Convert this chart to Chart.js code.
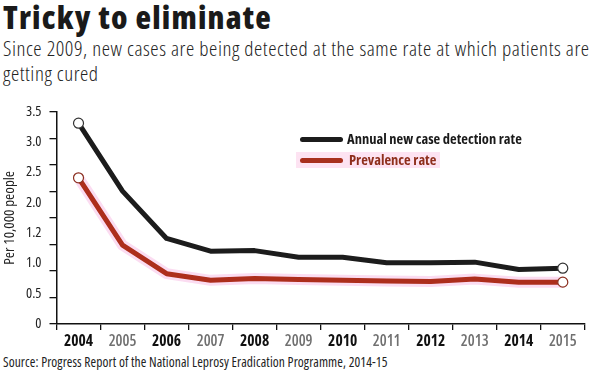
<!DOCTYPE html>
<html>
<head>
<meta charset="utf-8">
<script src="https://cdn.jsdelivr.net/npm/chart.js@4.4.0/dist/chart.umd.min.js"></script>
<style>
  body { margin: 0; background: #fff; width: 591px; height: 378px; overflow: hidden; position: relative;
         font-family: "Open Sans", sans-serif; font-stretch: 75%; color: #1a1a1a; }
  #title { position: absolute; left: 3px; top: -5px; font-size: 32px; font-weight: 800; letter-spacing: 1.2px; white-space: nowrap; }
  #sub { position: absolute; left: 3px; top: 36px; font-size: 21px; font-weight: 300; letter-spacing: 0.55px; line-height: 25px; white-space: nowrap; color: #222; }
  #box { position: absolute; left: 0; top: 95px; }
  #source { position: absolute; left: 3px; top: 353px; font-size: 13.5px; letter-spacing: 0.1px; white-space: nowrap; color: #222; }
  .row { position: absolute; height: 16px; line-height: 16px; font-size: 14.5px; font-weight: bold; white-space: nowrap; }
  .sw { position: absolute; left: 4px; top: 6px; width: 43px; height: 5px; border-radius: 3px; }
</style>
</head>
<body>
<div id="title">Tricky to eliminate</div>
<div id="sub">Since 2009, new cases are being detected at the same rate at which patients are<br>getting cured</div>
<div id="box"><canvas id="graph" width="591" height="258"></canvas></div>
<div class="row" style="left:296px; top:131px;"><span class="sw" style="background:#1c1c1c"></span><span style="margin-left:51px">Annual new case detection rate</span></div>
<div class="row" style="left:296px; top:152px; background:#fde3f2; padding-right:4px;"><span class="sw" style="background:#a8301d"></span><span style="margin-left:53px; color:#8e2f1c">Prevalence rate</span></div>
<div id="source">Source: Progress Report of the National Leprosy Eradication Programme, 2014-15</div>

<script>
const years = ["2004", "2005", "2006", "2007", "2008", "2009", "2010", "2011", "2012", "2013", "2014", "2015"];
const detectionRate = [3.31, 2.19, 1.41, 1.20, 1.21, 1.10, 1.10, 1.01, 1.01, 1.02, 0.90, 0.92];
const prevalenceRate = [2.41, 1.30, 0.83, 0.72, 0.75, 0.735, 0.72, 0.71, 0.70, 0.74, 0.69, 0.69];
const yTickLabels = ["0", "0.5", "1.0", "1.2", "2.0", "2.5", "3.0", "3.5"];

const fontFamily = '"Open Sans", sans-serif';
const ends = (c) => (c.dataIndex === 0 || c.dataIndex === years.length - 1) ? 5 : 0;

const ctx = document.querySelector("#graph");

new Chart(ctx, {
  type: "line",
  data: {
    labels: years,
    datasets: [
      {
        label: "Annual new case detection rate",
        data: detectionRate,
        yAxisID: "y",
        borderColor: "#1c1c1c",
        borderWidth: 5,
        pointRadius: ends,
        pointBackgroundColor: "#fff",
        pointBorderColor: "#333",
        pointBorderWidth: 1.2,
        order: 1
      },
      {
        label: "Prevalence rate",
        data: prevalenceRate,
        yAxisID: "y",
        borderColor: "#ad2e1c",
        borderWidth: 5,
        pointRadius: ends,
        pointBackgroundColor: "#fff",
        pointBorderColor: "#8b3020",
        pointBorderWidth: 1.2,
        order: 2
      },
      {
        // pink halo under the red line
        label: "halo",
        data: prevalenceRate,
        yAxisID: "y",
        borderColor: "rgba(250, 205, 235, 0.7)",
        borderWidth: 11,
        pointRadius: 0,
        order: 3
      }
    ]
  },
  options: {
    responsive: false,
    animation: false,
    layout: { padding: { top: 15, right: 5, left: 0, bottom: 0 } },
    elements: { line: { tension: 0, borderJoinStyle: "round", borderCapStyle: "round" } },
    plugins: { legend: { display: false }, tooltip: { enabled: false } },
    scales: {
      x: {
        offset: true,
        grid: { offset: true, drawOnChartArea: false, tickLength: 6, color: "#111", lineWidth: 1.3 },
        border: { color: "#111", width: 1.5 },
        ticks: {
          padding: 2,
          color: (c) => c.index % 2 ? "#707070" : "#111",
          font: (c) => ({ family: fontFamily, size: 15.5, weight: c.index % 2 ? "600 condensed" : "bold condensed" })
        },
        afterFit: (s) => { s.height = 29; }
      },
      yMarks: {
        position: "left",
        weight: 0,
        min: 0,
        max: 4,
        ticks: { display: false, stepSize: 0.5 },
        grid: { drawOnChartArea: false, tickLength: 7, color: "#111", lineWidth: 1.3 },
        border: { color: "#111", width: 1.5 },
        afterFit: (s) => { s.width = 7; }
      },
      y: {
        position: "left",
        weight: 1,
        min: 0,
        max: 3.5,
        grid: { display: false, drawTicks: false },
        border: { display: false },
        ticks: {
          stepSize: 0.5,
          padding: 8,
          color: "#222",
          font: { family: fontFamily, size: 14.5, weight: "condensed" },
          callback: (v, i) => yTickLabels[i]
        },
        title: { display: true, text: "Per 10,000 people", color: "#222", font: { family: fontFamily, size: 15, weight: "condensed" }, padding: 1 },
        afterFit: (s) => { s.width = 49.5; }
      }
    }
  }
});
</script>
</body>
</html>
